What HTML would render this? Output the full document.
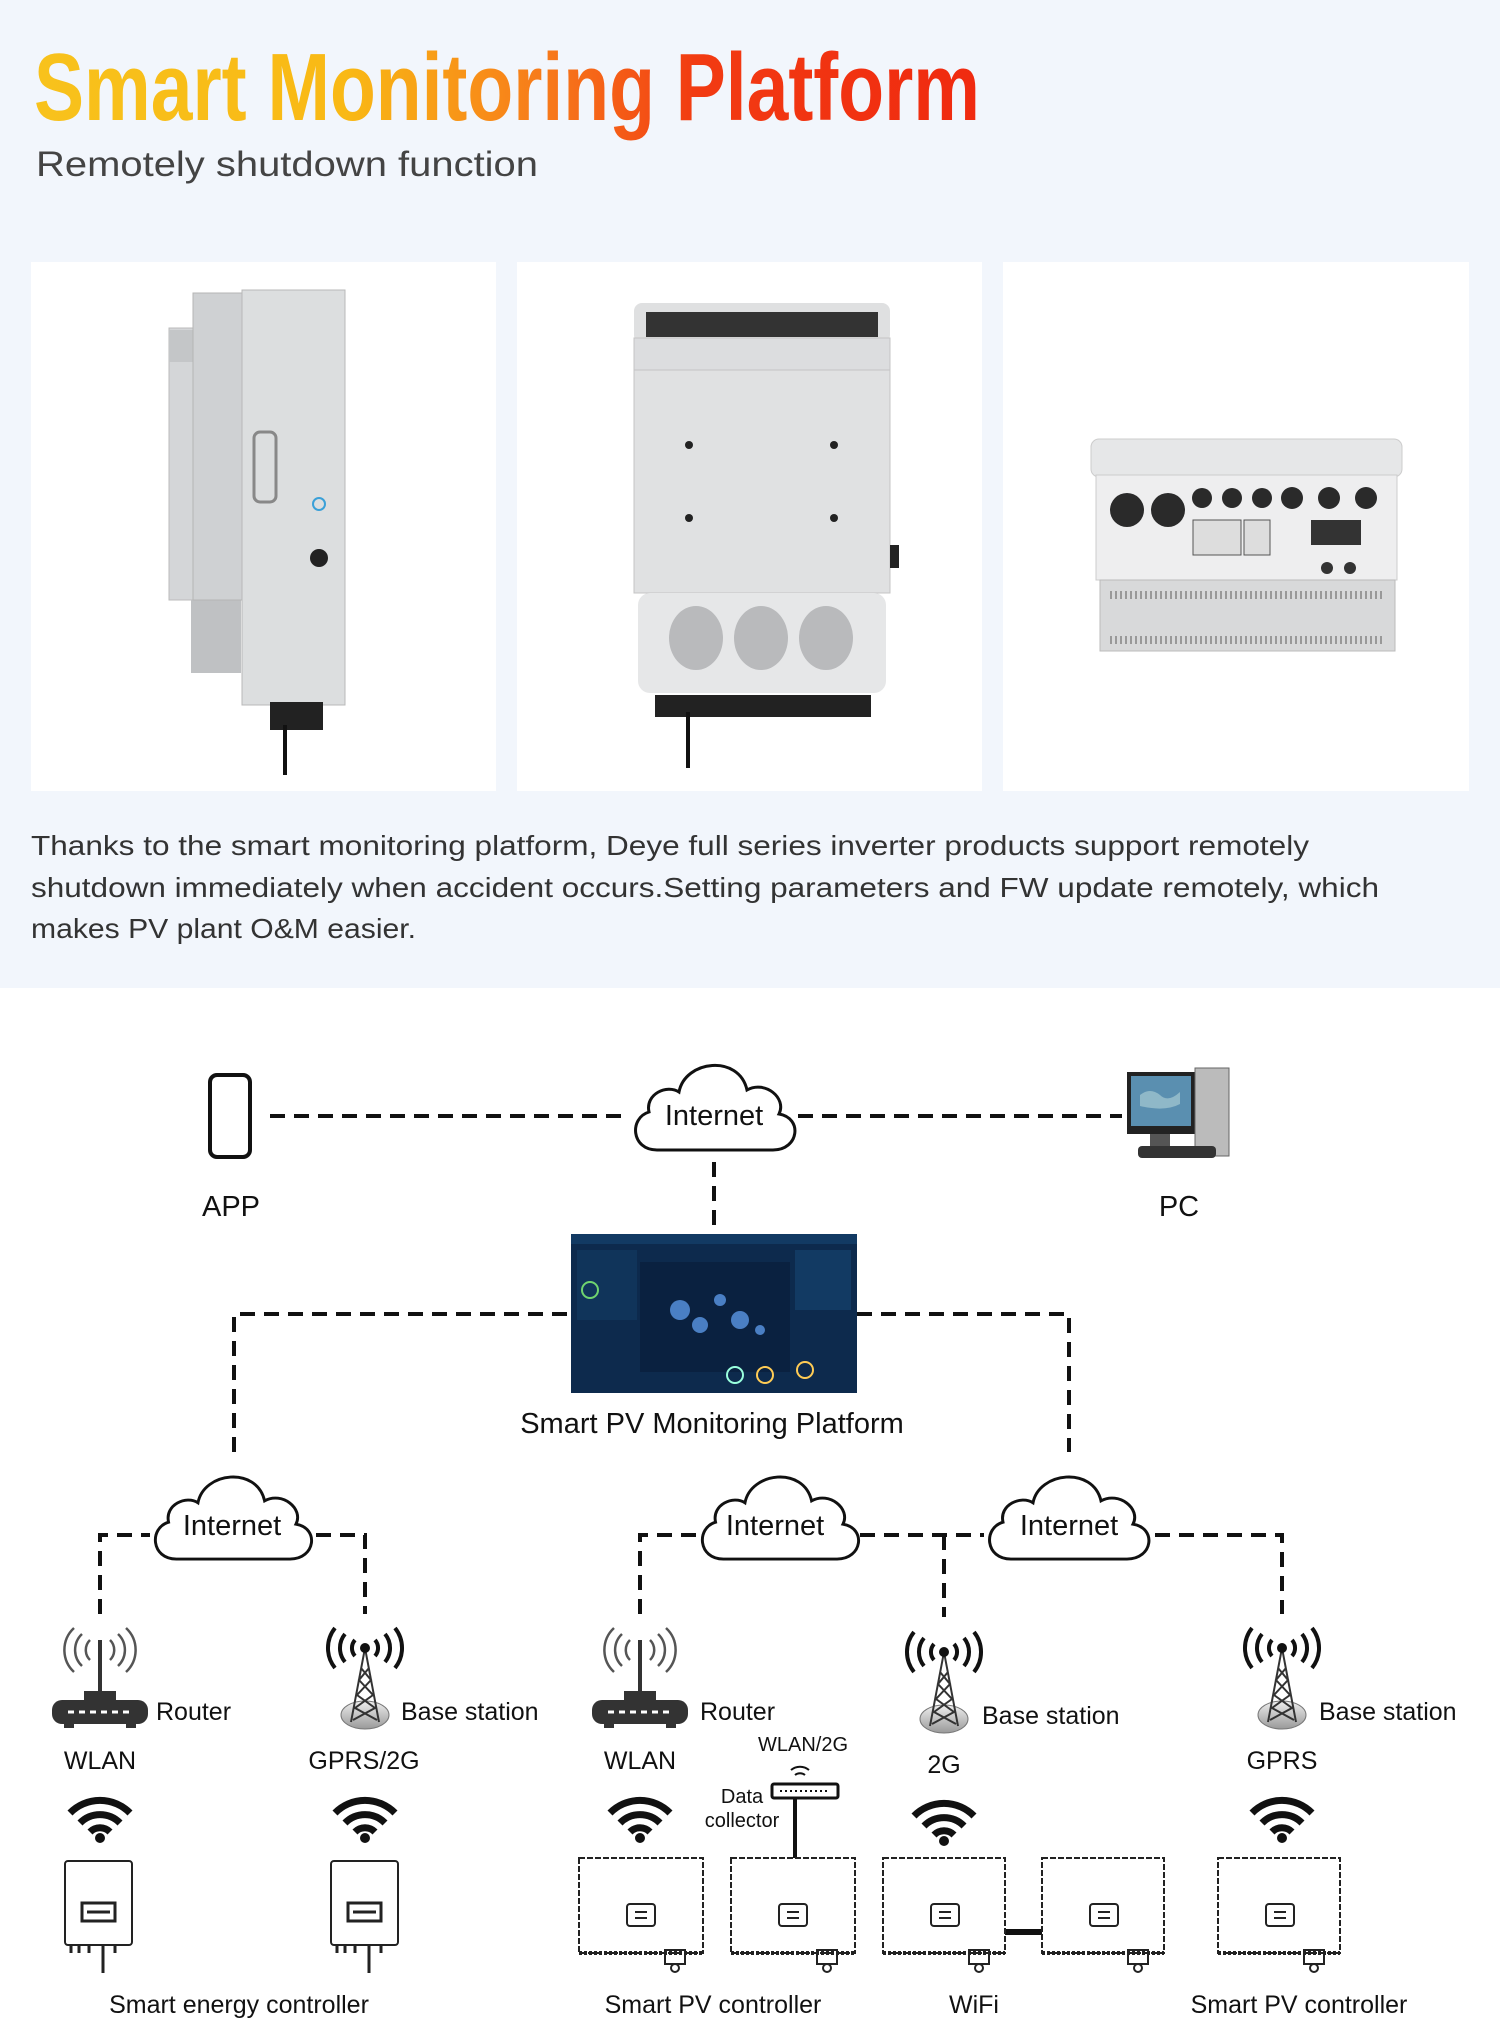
<!DOCTYPE html>
<html><head><meta charset="utf-8"><style>
html,body{margin:0;padding:0;background:#fff;}
body{width:1500px;height:2037px;overflow:hidden;}
svg{display:block;}
</style></head><body>
<svg width="1500" height="2037" viewBox="0 0 1500 2037" xmlns="http://www.w3.org/2000/svg" font-family="'Liberation Sans', Arial, sans-serif">
<defs>
<linearGradient id="tg" x1="34" y1="0" x2="980" y2="0" gradientUnits="userSpaceOnUse">
<stop offset="0" stop-color="#f8c21c"/><stop offset="0.33" stop-color="#f9b915"/><stop offset="0.55" stop-color="#f7771a"/><stop offset="0.7" stop-color="#f23b12"/><stop offset="1" stop-color="#f02a10"/>
</linearGradient>
<linearGradient id="dish" x1="0" y1="0" x2="0" y2="1"><stop offset="0" stop-color="#eee"/><stop offset="1" stop-color="#999"/></linearGradient>
</defs>
<rect x="0" y="0" width="1500" height="988" fill="#f2f6fc"/>
<text x="34" y="120" font-family="'Liberation Sans Narrow','Liberation Sans',sans-serif" font-weight="bold" font-size="96" fill="url(#tg)" textLength="946" lengthAdjust="spacingAndGlyphs">Smart Monitoring Platform</text>
<text x="36" y="176" font-size="35" fill="#444" textLength="502" lengthAdjust="spacingAndGlyphs">Remotely shutdown function</text>
<rect x="31" y="262" width="465" height="529" fill="#fff"/>
<rect x="517" y="262" width="465" height="529" fill="#fff"/>
<rect x="1003" y="262" width="466" height="529" fill="#fff"/>
<!-- panel 1 side view -->
<rect x="169" y="328" width="34" height="272" fill="#d4d6d8" stroke="#bbb"/>
<rect x="169" y="330" width="34" height="32" fill="#c4c6c8"/>
<rect x="191" y="600" width="50" height="73" fill="#bfc1c3"/>
<rect x="193" y="293" width="49" height="307" fill="#cfd1d3" stroke="#b5b5b5"/>
<rect x="242" y="290" width="103" height="415" fill="#dcdedf" stroke="#b8b8b8"/>
<rect x="254" y="432" width="22" height="70" rx="6" fill="none" stroke="#888" stroke-width="3"/>
<circle cx="319" cy="504" r="6" fill="none" stroke="#3aa0d8" stroke-width="2"/>
<circle cx="319" cy="558" r="9" fill="#222"/>
<rect x="270" y="702" width="53" height="28" fill="#222"/>
<rect x="283" y="725" width="4" height="50" fill="#111"/>
<!-- panel 2 front view -->
<rect x="634" y="303" width="256" height="40" rx="8" fill="#dfe0e1"/>
<rect x="646" y="312" width="232" height="25" fill="#333"/>
<rect x="634" y="338" width="256" height="255" fill="#e0e1e2" stroke="#c4c4c4"/>
<rect x="634" y="338" width="256" height="32" fill="#dcdddf" stroke="#c4c4c4"/>
<circle cx="689" cy="445" r="4" fill="#222"/><circle cx="834" cy="445" r="4" fill="#222"/>
<circle cx="689" cy="518" r="4" fill="#222"/><circle cx="834" cy="518" r="4" fill="#222"/>
<rect x="890" y="545" width="9" height="23" fill="#222"/>
<rect x="638" y="593" width="248" height="100" rx="12" fill="#e6e7e8"/>
<ellipse cx="696" cy="638" rx="27" ry="32" fill="#b9babc"/><ellipse cx="761" cy="638" rx="27" ry="32" fill="#b9babc"/><ellipse cx="826" cy="638" rx="27" ry="32" fill="#b9babc"/>
<rect x="655" y="695" width="216" height="22" fill="#222"/>
<rect x="686" y="712" width="4" height="56" fill="#111"/>
<!-- panel 3 bottom view -->
<rect x="1091" y="439" width="311" height="38" rx="8" fill="#e6e7e8" stroke="#ccc"/>
<rect x="1096" y="475" width="301" height="105" fill="#eeeeef" stroke="#ccc"/>
<circle cx="1127" cy="510" r="17" fill="#2a2a2a"/><circle cx="1168" cy="510" r="17" fill="#2a2a2a"/>
<circle cx="1202" cy="498" r="10" fill="#2a2a2a"/><circle cx="1232" cy="498" r="10" fill="#2a2a2a"/><circle cx="1262" cy="498" r="10" fill="#2a2a2a"/><circle cx="1292" cy="498" r="11" fill="#2a2a2a"/><circle cx="1329" cy="498" r="11" fill="#2a2a2a"/><circle cx="1366" cy="498" r="11" fill="#2a2a2a"/>
<rect x="1193" y="520" width="48" height="35" fill="#ddd" stroke="#555"/><rect x="1244" y="520" width="26" height="35" fill="#ddd" stroke="#555"/>
<rect x="1311" y="520" width="50" height="25" fill="#333"/>
<circle cx="1327" cy="568" r="6" fill="#333"/><circle cx="1350" cy="568" r="6" fill="#333"/>
<rect x="1100" y="580" width="295" height="71" fill="#d8d9da" stroke="#bbb"/>
<path d="M1110 595 H1385 M1110 640 H1385" stroke="#999" stroke-width="8" stroke-dasharray="2 3"/>
<g font-size="28" fill="#333">
<text x="31" y="855" textLength="1278" lengthAdjust="spacingAndGlyphs">Thanks to the smart monitoring platform, Deye full series inverter products support remotely</text>
<text x="31" y="897" textLength="1348" lengthAdjust="spacingAndGlyphs">shutdown immediately when accident occurs.Setting parameters and FW update remotely, which</text>
<text x="31" y="938" textLength="385" lengthAdjust="spacingAndGlyphs">makes PV plant O&amp;M easier.</text>
</g>
<!-- diagram -->
<g stroke="#111" stroke-width="4" stroke-dasharray="15 9" fill="none">
<path d="M270 1116 H630 M798 1116 H1122"/>
<path d="M714 1162 V1230"/>
<path d="M234 1452 V1314 H571 M857 1314 H1069 V1452"/>
<path d="M100 1614 V1535 H150 M316 1535 H365 V1614"/>
<path d="M640 1614 V1535 H698 M860 1535 H984 M944 1535 V1617 M1155 1535 H1282 V1614"/>
</g>
<g fill="#fff" stroke="#111" stroke-width="3">
<g transform="translate(627,1052)"><path d="M30 98 C4 98 2 66 22 60 C18 42 40 32 52 40 C58 8 112 2 120 38 C138 28 160 46 152 62 C176 66 172 98 146 98 Z"/></g>
<g transform="translate(147,1464) scale(0.98,0.97)"><path d="M30 98 C4 98 2 66 22 60 C18 42 40 32 52 40 C58 8 112 2 120 38 C138 28 160 46 152 62 C176 66 172 98 146 98 Z"/></g>
<g transform="translate(694,1464) scale(0.98,0.97)"><path d="M30 98 C4 98 2 66 22 60 C18 42 40 32 52 40 C58 8 112 2 120 38 C138 28 160 46 152 62 C176 66 172 98 146 98 Z"/></g>
<g transform="translate(981,1464) scale(1.0,0.97)"><path d="M30 98 C4 98 2 66 22 60 C18 42 40 32 52 40 C58 8 112 2 120 38 C138 28 160 46 152 62 C176 66 172 98 146 98 Z"/></g>
</g>
<g font-size="29" fill="#111" text-anchor="middle">
<text x="714" y="1125">Internet</text>
<text x="232" y="1535">Internet</text>
<text x="775" y="1535">Internet</text>
<text x="1069" y="1535">Internet</text>
</g>
<rect x="210" y="1075" width="40" height="82" rx="7" fill="#fff" stroke="#111" stroke-width="4"/>
<rect x="1127" y="1072" width="68" height="62" fill="#222"/>
<rect x="1131" y="1076" width="60" height="50" fill="#5a8fb0"/>
<path d="M1140 1095 q10 -8 20 0 q8 8 20 -3 v12 q-15 8 -40 2z" fill="#8fb8c8"/>
<rect x="1195" y="1068" width="34" height="88" fill="#bbb" stroke="#666"/>
<rect x="1150" y="1134" width="20" height="12" fill="#555"/>
<rect x="1138" y="1146" width="78" height="12" rx="4" fill="#333"/>
<g font-size="29" fill="#111" text-anchor="middle">
<text x="231" y="1216">APP</text>
<text x="1179" y="1216">PC</text>
<text x="712" y="1433" font-size="29">Smart PV Monitoring Platform</text>
</g>
<rect x="571" y="1234" width="286" height="159" fill="#0d2a4d"/>
<rect x="571" y="1234" width="286" height="10" fill="#123a63"/>
<rect x="577" y="1250" width="60" height="70" fill="#10345a"/>
<circle cx="590" cy="1290" r="8" fill="none" stroke="#6fd36f" stroke-width="2"/>
<rect x="640" y="1262" width="150" height="110" fill="#0a2140"/>
<g fill="#4a7fc4"><circle cx="680" cy="1310" r="10"/><circle cx="700" cy="1325" r="8"/><circle cx="720" cy="1300" r="6"/><circle cx="740" cy="1320" r="9"/><circle cx="760" cy="1330" r="5"/></g>
<rect x="795" y="1250" width="56" height="60" fill="#123a63"/>
<circle cx="735" cy="1375" r="8" fill="none" stroke="#9fd" stroke-width="2"/>
<circle cx="765" cy="1375" r="8" fill="none" stroke="#fc5" stroke-width="2"/>
<circle cx="805" cy="1370" r="8" fill="none" stroke="#fc5" stroke-width="2"/>
<g>
<path d="M100 1640 V1700" stroke="#333" stroke-width="4"/>
<g fill="none" stroke="#555" stroke-width="2.5"><path d="M90 1640 a14 14 0 0 0 0 20 M110 1640 a14 14 0 0 1 0 20 M82 1634 a22 22 0 0 0 0 32 M118 1634 a22 22 0 0 1 0 32 M74 1628 a30 30 0 0 0 0 44 M126 1628 a30 30 0 0 1 0 44"/></g>
<rect x="84" y="1691" width="32" height="10" fill="#333"/>
<rect x="52" y="1700" width="96" height="24" rx="10" fill="#333"/>
<path d="M68 1712 H132" stroke="#fff" stroke-width="3" stroke-dasharray="6 5"/>
<rect x="64" y="1722" width="10" height="6" fill="#333"/><rect x="126" y="1722" width="10" height="6" fill="#333"/>
</g>
<g transform="translate(540,0)">
<path d="M100 1640 V1700" stroke="#333" stroke-width="4"/>
<g fill="none" stroke="#555" stroke-width="2.5"><path d="M90 1640 a14 14 0 0 0 0 20 M110 1640 a14 14 0 0 1 0 20 M82 1634 a22 22 0 0 0 0 32 M118 1634 a22 22 0 0 1 0 32 M74 1628 a30 30 0 0 0 0 44 M126 1628 a30 30 0 0 1 0 44"/></g>
<rect x="84" y="1691" width="32" height="10" fill="#333"/>
<rect x="52" y="1700" width="96" height="24" rx="10" fill="#333"/>
<path d="M68 1712 H132" stroke="#fff" stroke-width="3" stroke-dasharray="6 5"/>
<rect x="64" y="1722" width="10" height="6" fill="#333"/><rect x="126" y="1722" width="10" height="6" fill="#333"/>
</g>
<g transform="translate(365,0)">
<ellipse cx="0" cy="1715" rx="24" ry="14" fill="url(#dish)" stroke="#777"/>
<path d="M0 1648 L-14 1722 M0 1648 L14 1722 M-4 1668 L6 1680 L-8 1695 L10 1708 L-12 1720 M4 1668 L-6 1680 L8 1695 L-10 1708 L12 1720" stroke="#333" stroke-width="2" fill="none"/>
<circle cx="0" cy="1648" r="5" fill="#111"/>
<g fill="none" stroke="#111" stroke-width="4"><path d="M-10 1640 a12 12 0 0 0 0 16 M10 1640 a12 12 0 0 1 0 16 M-20 1634 a22 22 0 0 0 0 28 M20 1634 a22 22 0 0 1 0 28 M-30 1628 a32 32 0 0 0 0 40 M30 1628 a32 32 0 0 1 0 40"/></g>
</g>
<g transform="translate(944,4)">
<ellipse cx="0" cy="1715" rx="24" ry="14" fill="url(#dish)" stroke="#777"/>
<path d="M0 1648 L-14 1722 M0 1648 L14 1722 M-4 1668 L6 1680 L-8 1695 L10 1708 L-12 1720 M4 1668 L-6 1680 L8 1695 L-10 1708 L12 1720" stroke="#333" stroke-width="2" fill="none"/>
<circle cx="0" cy="1648" r="5" fill="#111"/>
<g fill="none" stroke="#111" stroke-width="4"><path d="M-10 1640 a12 12 0 0 0 0 16 M10 1640 a12 12 0 0 1 0 16 M-20 1634 a22 22 0 0 0 0 28 M20 1634 a22 22 0 0 1 0 28 M-30 1628 a32 32 0 0 0 0 40 M30 1628 a32 32 0 0 1 0 40"/></g>
</g>
<g transform="translate(1282,0)">
<ellipse cx="0" cy="1715" rx="24" ry="14" fill="url(#dish)" stroke="#777"/>
<path d="M0 1648 L-14 1722 M0 1648 L14 1722 M-4 1668 L6 1680 L-8 1695 L10 1708 L-12 1720 M4 1668 L-6 1680 L8 1695 L-10 1708 L12 1720" stroke="#333" stroke-width="2" fill="none"/>
<circle cx="0" cy="1648" r="5" fill="#111"/>
<g fill="none" stroke="#111" stroke-width="4"><path d="M-10 1640 a12 12 0 0 0 0 16 M10 1640 a12 12 0 0 1 0 16 M-20 1634 a22 22 0 0 0 0 28 M20 1634 a22 22 0 0 1 0 28 M-30 1628 a32 32 0 0 0 0 40 M30 1628 a32 32 0 0 1 0 40"/></g>
</g>
<g font-size="25" fill="#111">
<text x="156" y="1720">Router</text>
<text x="401" y="1720">Base station</text>
<text x="700" y="1720">Router</text>
<text x="982" y="1724">Base station</text>
<text x="1319" y="1720">Base station</text>
</g>
<g font-size="25" fill="#111" text-anchor="middle">
<text x="100" y="1769">WLAN</text>
<text x="364" y="1769">GPRS/2G</text>
<text x="640" y="1769">WLAN</text>
<text x="944" y="1773">2G</text>
<text x="1282" y="1769">GPRS</text>
<text x="803" y="1751" font-size="20">WLAN/2G</text>
<text x="742" y="1803" font-size="20">Data</text>
<text x="742" y="1827" font-size="20">collector</text>
</g>
<g fill="none" stroke="#111" stroke-width="7">
<g transform="translate(100,0)"><path d="M-30 1813 A42 42 0 0 1 30 1813 M-20 1823 A28 28 0 0 1 20 1823 M-10 1832 A14 14 0 0 1 10 1832"/><circle cx="0" cy="1838" r="5" fill="#111" stroke="none"/></g>
<g transform="translate(365,0)"><path d="M-30 1813 A42 42 0 0 1 30 1813 M-20 1823 A28 28 0 0 1 20 1823 M-10 1832 A14 14 0 0 1 10 1832"/><circle cx="0" cy="1838" r="5" fill="#111" stroke="none"/></g>
<g transform="translate(640,0)"><path d="M-30 1813 A42 42 0 0 1 30 1813 M-20 1823 A28 28 0 0 1 20 1823 M-10 1832 A14 14 0 0 1 10 1832"/><circle cx="0" cy="1838" r="5" fill="#111" stroke="none"/></g>
<g transform="translate(944,3)"><path d="M-30 1813 A42 42 0 0 1 30 1813 M-20 1823 A28 28 0 0 1 20 1823 M-10 1832 A14 14 0 0 1 10 1832"/><circle cx="0" cy="1838" r="5" fill="#111" stroke="none"/></g>
<g transform="translate(1282,0)"><path d="M-30 1813 A42 42 0 0 1 30 1813 M-20 1823 A28 28 0 0 1 20 1823 M-10 1832 A14 14 0 0 1 10 1832"/><circle cx="0" cy="1838" r="5" fill="#111" stroke="none"/></g>
</g>
<path d="M795 1775 a8 8 0 0 1 10 0 M791 1770 a14 14 0 0 1 18 0" fill="none" stroke="#111" stroke-width="2"/>
<rect x="772" y="1784" width="66" height="14" rx="2" fill="#fff" stroke="#111" stroke-width="3"/>
<path d="M780 1791 H830" stroke="#111" stroke-width="2" stroke-dasharray="2 3"/>
<path d="M795 1798 V1858" stroke="#111" stroke-width="4"/>
<path d="M1005 1932 H1042" stroke="#111" stroke-width="6"/>
<g fill="none" stroke="#222" stroke-width="2">
<g transform="translate(65,0)"><rect x="0" y="1861" width="67" height="84" rx="3"/><rect x="17" y="1903" width="33" height="18" fill="#fff" stroke-width="3"/><path d="M22 1912 H45" stroke-width="3"/><path d="M6 1945 v8 M14 1945 v8 M24 1945 v8 M50 1945 v8" stroke-width="3"/><path d="M38 1945 v28" stroke-width="3"/></g>
<g transform="translate(331,0)"><rect x="0" y="1861" width="67" height="84" rx="3"/><rect x="17" y="1903" width="33" height="18" fill="#fff" stroke-width="3"/><path d="M22 1912 H45" stroke-width="3"/><path d="M6 1945 v8 M14 1945 v8 M24 1945 v8 M50 1945 v8" stroke-width="3"/><path d="M38 1945 v28" stroke-width="3"/></g>
</g>
<g fill="none" stroke="#222" stroke-width="2">
<g transform="translate(579,0)"><rect x="0" y="1858" width="124" height="95" stroke-dasharray="6 2"/><rect x="48" y="1904" width="28" height="22" rx="3"/><path d="M56 1912 h12 M56 1918 h12"/><path d="M0 1953 H124" stroke-width="4" stroke-dasharray="3 2"/><rect x="86" y="1950" width="20" height="14"/><circle cx="96" cy="1968" r="4"/></g>
<g transform="translate(731,0)"><rect x="0" y="1858" width="124" height="95" stroke-dasharray="6 2"/><rect x="48" y="1904" width="28" height="22" rx="3"/><path d="M56 1912 h12 M56 1918 h12"/><path d="M0 1953 H124" stroke-width="4" stroke-dasharray="3 2"/><rect x="86" y="1950" width="20" height="14"/><circle cx="96" cy="1968" r="4"/></g>
<g transform="translate(883,0)"><rect x="0" y="1858" width="122" height="95" stroke-dasharray="6 2"/><rect x="48" y="1904" width="28" height="22" rx="3"/><path d="M56 1912 h12 M56 1918 h12"/><path d="M0 1953 H122" stroke-width="4" stroke-dasharray="3 2"/><rect x="86" y="1950" width="20" height="14"/><circle cx="96" cy="1968" r="4"/></g>
<g transform="translate(1042,0)"><rect x="0" y="1858" width="122" height="95" stroke-dasharray="6 2"/><rect x="48" y="1904" width="28" height="22" rx="3"/><path d="M56 1912 h12 M56 1918 h12"/><path d="M0 1953 H122" stroke-width="4" stroke-dasharray="3 2"/><rect x="86" y="1950" width="20" height="14"/><circle cx="96" cy="1968" r="4"/></g>
<g transform="translate(1218,0)"><rect x="0" y="1858" width="122" height="95" stroke-dasharray="6 2"/><rect x="48" y="1904" width="28" height="22" rx="3"/><path d="M56 1912 h12 M56 1918 h12"/><path d="M0 1953 H122" stroke-width="4" stroke-dasharray="3 2"/><rect x="86" y="1950" width="20" height="14"/><circle cx="96" cy="1968" r="4"/></g>
</g>
<g font-size="25" fill="#111" text-anchor="middle">
<text x="239" y="2013">Smart energy controller</text>
<text x="713" y="2013">Smart PV controller</text>
<text x="974" y="2013">WiFi</text>
<text x="1299" y="2013">Smart PV controller</text>
</g>
</svg>
</body></html>
